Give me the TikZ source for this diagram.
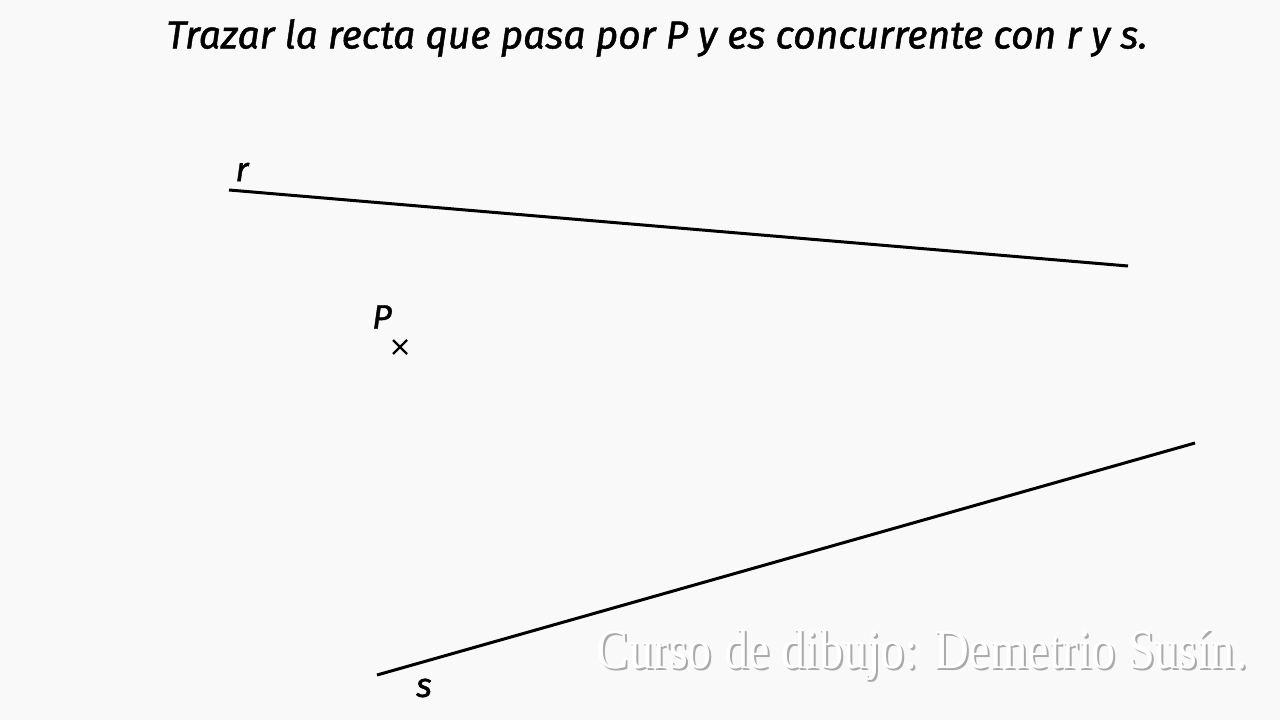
\documentclass[tikz,border=0pt]{standalone}
\usepackage{fontspec}
\setmainfont{Liberation Serif}
\newfontfamily\titlefont[FakeBold=1.2]{Fira Sans}
\begin{document}
\begin{tikzpicture}[x=1pt,y=-1pt,
  seg/.style={line width=3pt,black},
  lbl/.style={font=\titlefont\itshape\fontsize{34}{34}\selectfont,inner sep=0pt},
  wm/.style={font=\fontsize{56}{56}\selectfont,inner sep=0pt,xscale=0.86}]
\fill[fill={rgb,255:red,249;green,249;blue,249}] (0,0) rectangle (1280,720);
\useasboundingbox (0,0) rectangle (1280,720);
\node[font=\titlefont\itshape\fontsize{39}{39}\selectfont,inner sep=0pt] (title) at (657,38) {Trazar la recta que pasa por P y es concurrente con r y s.};
\coordinate (r1) at (229,190);
\coordinate (r2) at (1128,266);
\coordinate (s1) at (377,675);
\coordinate (s2) at (1195,443);
\draw[seg] (r1) -- (r2);
\draw[seg] (s1) -- (s2);
\node[lbl] (rl) at (242,172) {r};
\node[lbl] (sl) at (424,688) {s};
\node[lbl] (Pl) at (382,317) {P};
\coordinate (P) at (400,347);
\draw[line width=2.4pt] ([shift={(-7,-7)}]P) -- ([shift={(7,7)}]P);
\draw[line width=2.4pt] ([shift={(-7,7)}]P) -- ([shift={(7,-7)}]P);
\node[wm,text={rgb,255:red,170;green,170;blue,170}] (wms) at (924,657) {Curso de dibujo: Demetrio Susín.};
\node[wm,text=white] (wmt) at (922,655) {Curso de dibujo: Demetrio Susín.};
\end{tikzpicture}
\end{document}
